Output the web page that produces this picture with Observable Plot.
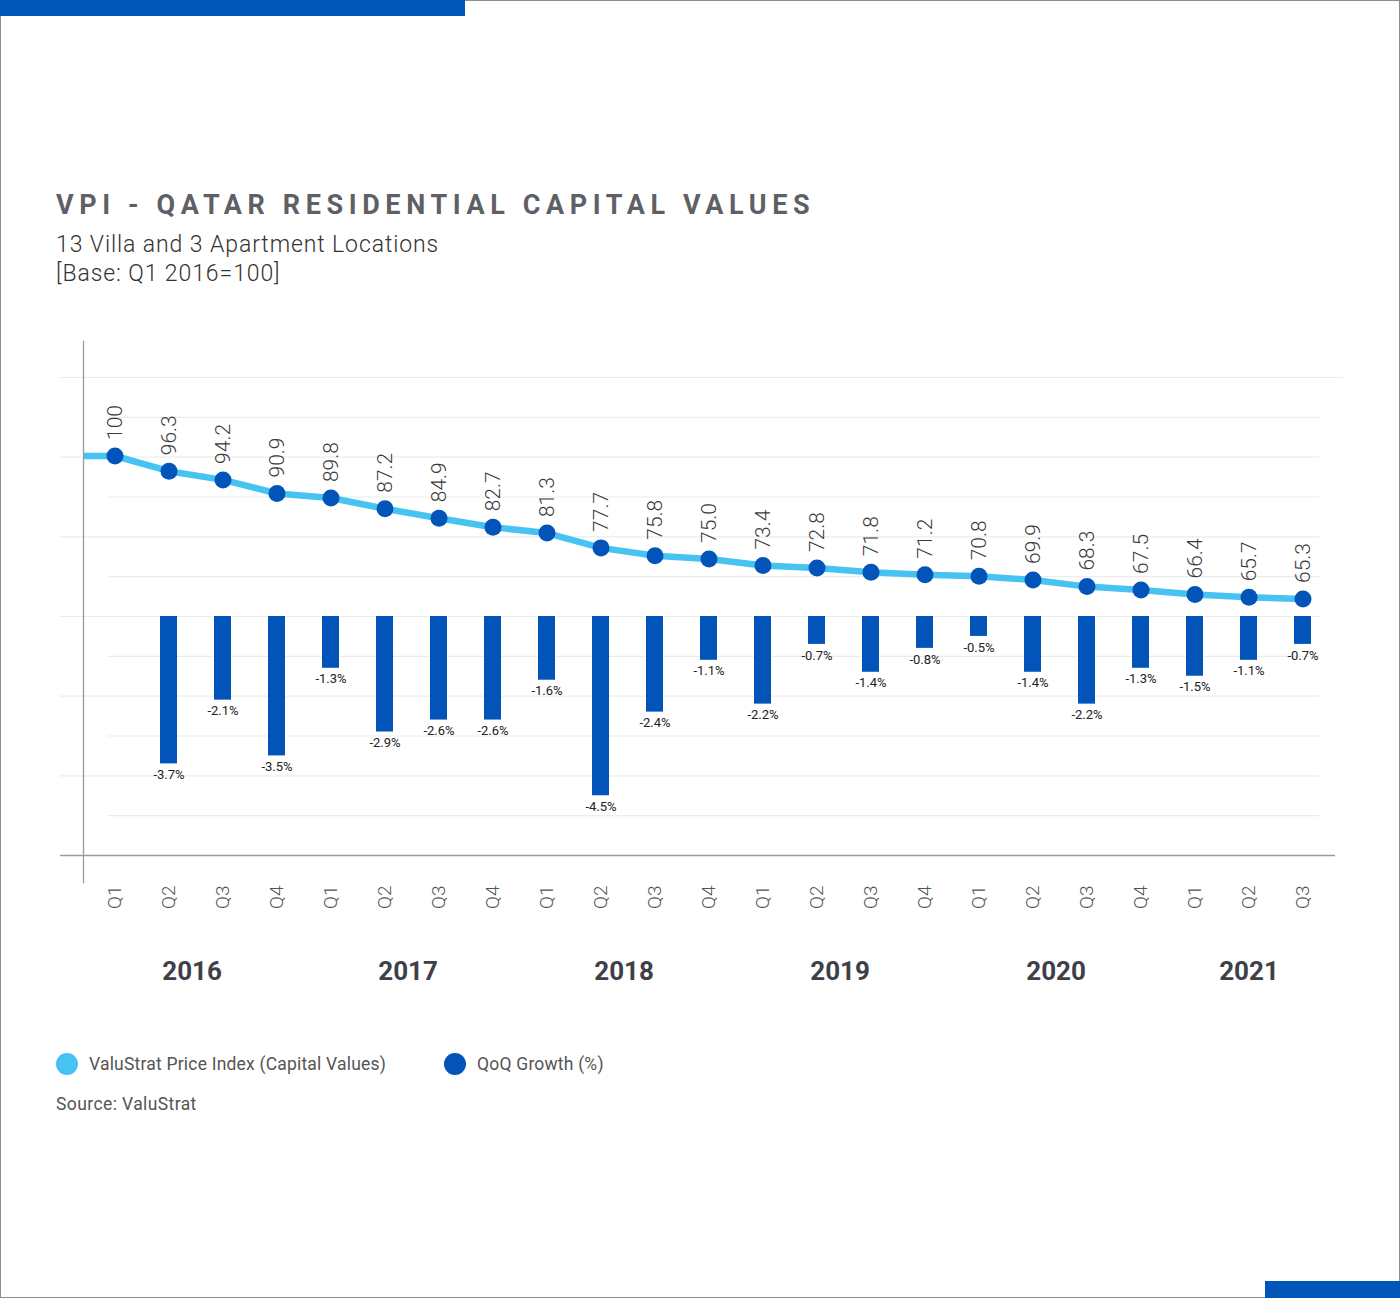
<!DOCTYPE html>
<html>
<head>
<meta charset="utf-8">
<script src="https://cdn.jsdelivr.net/npm/d3@7"></script>
<script src="https://cdn.jsdelivr.net/npm/@observablehq/plot@0.6"></script>
<style>
  html, body { margin: 0; padding: 0; background: #fff; }
  #page { position: relative; width: 1400px; height: 1298px; overflow: hidden; background: #fff; font-family: Roboto, "Noto Sans", sans-serif; }
  .frame { position: absolute; left: 0; top: 0; width: 1400px; height: 1298px; box-sizing: border-box; border: 1px solid #8c8c8c; }
  .bar-top { position: absolute; left: 0; top: 0; width: 465px; height: 16px; background: #0055b8; }
  .bar-bottom { position: absolute; left: 1265px; top: 1281px; width: 135px; height: 17px; background: #0055b8; }
  .title { position: absolute; left: 56px; top: 189px; font-size: 27px; font-weight: 700; letter-spacing: 5.6px; color: #5f5f66; white-space: nowrap; }
  .sub { position: absolute; left: 56px; font-size: 23px; font-weight: 300; letter-spacing: 0.9px; color: #333; white-space: nowrap; }
  .chart { position: absolute; left: 0; top: 330px; }
  .legend { position: absolute; top: 1053px; left: 56px; display: flex; align-items: center; font-size: 17.5px; letter-spacing: 0.2px; color: #555; font-weight: 400; white-space: nowrap; }
  .legend .sw { width: 22px; height: 22px; border-radius: 50%; display: inline-block; margin-right: 11px; }
  .source { position: absolute; left: 56px; top: 1094px; font-size: 17.5px; letter-spacing: 0.4px; color: #555; white-space: nowrap; }
</style>
</head>
<body>
<div id="page">
  <div class="frame"></div>
  <div class="bar-top"></div>
  <div class="bar-bottom"></div>
  <div class="title">VPI - QATAR RESIDENTIAL CAPITAL VALUES</div>
  <div class="sub" style="top:231px">13 Villa and 3 Apartment Locations</div>
  <div class="sub" style="top:260px">[Base: Q1 2016=100]</div>
  <div class="chart" id="chartA"></div>
  <div class="chart" id="chartB"></div>
  <div class="legend" id="legend"></div>
  <div class="source">Source: ValuStrat</div>
</div>
<script>
// ---------- data ----------
const periods = [
  "2016 Q1","2016 Q2","2016 Q3","2016 Q4",
  "2017 Q1","2017 Q2","2017 Q3","2017 Q4",
  "2018 Q1","2018 Q2","2018 Q3","2018 Q4",
  "2019 Q1","2019 Q2","2019 Q3","2019 Q4",
  "2020 Q1","2020 Q2","2020 Q3","2020 Q4",
  "2021 Q1","2021 Q2","2021 Q3"
];
const priceIndex = [100, 96.3, 94.2, 90.9, 89.8, 87.2, 84.9, 82.7, 81.3, 77.7, 75.8, 75.0,
                    73.4, 72.8, 71.8, 71.2, 70.8, 69.9, 68.3, 67.5, 66.4, 65.7, 65.3];
const qoqGrowth = [null, -3.7, -2.1, -3.5, -1.3, -2.9, -2.6, -2.6, -1.6, -4.5, -2.4, -1.1,
                   -2.2, -0.7, -1.4, -0.8, -0.5, -1.4, -2.2, -1.3, -1.5, -1.1, -0.7];
const yearLabels = ["2016", "2017", "2018", "2019", "2020", "2021"];
const gridMajor = [4, 2, 0, -2, -4];
const gridMinor = [5, 3, 1, -1, -3, -5];
const gridTop = [6];
const gridBase = [-6];
const seriesNames = ["ValuStrat Price Index (Capital Values)", "QoQ Growth (%)"];
const seriesColors = ["#47c3f2", "#0254b8"];

// ---------- derived table ----------
const rows = periods.map((p, i) => ({key: p, index: priceIndex[i], qoq: qoqGrowth[i]}));
const years = yearLabels.map(y => {
  const qs = periods.filter(p => p.startsWith(y));
  return {year: y, count: qs.length, mid: qs[Math.floor((qs.length - 1) / 2)]};
});

// ---------- layout ----------
const W = 1400, H = 680;
const step = 54.1, firstCenter = 113;
const xScale = {
  type: "band", domain: periods,
  range: [firstCenter - step / 2, firstCenter - step / 2 + step * periods.length],
  paddingInner: 0.69, paddingOuter: 0.345, align: 0.5
};
const common = {width: W, height: H, marginLeft: 83, marginRight: 70, marginTop: 11, marginBottom: 128,
  style: {background: "transparent", fontFamily: "Roboto, sans-serif", overflow: "visible"}};
const blue = seriesColors[1], light = seriesColors[0];

// Chart A: grid, bars, axes
const chartA = Plot.plot({
  ...common,
  x: {...xScale, axis: null},
  y: {domain: [-6, 6], range: [525, 47], axis: null},
  marks: [
    Plot.ruleY(gridTop, {stroke: "#ececec", strokeWidth: 1.2, insetLeft: -23, insetRight: -13}),
    Plot.ruleY(gridMajor, {stroke: "#ececec", strokeWidth: 1.2, insetLeft: -23, insetRight: 11}),
    Plot.ruleY(gridMinor, {stroke: "#ececec", strokeWidth: 1.2, insetLeft: 25, insetRight: 11}),
    Plot.frame({anchor: "left", stroke: "#9a9a9a", strokeWidth: 1.3}),
    Plot.barY(rows.filter(d => d.qoq != null), {x: "key", y: "qoq", fill: blue}),
    Plot.ruleY(gridBase, {stroke: "#9a9a9a", strokeWidth: 1.3, insetLeft: -23, insetRight: -5}),
    Plot.text(rows.filter(d => d.qoq != null), {
      x: "key", y: "qoq", text: d => d.qoq.toFixed(1) + "%", dy: 11,
      fontSize: 13, fill: "#222", fontWeight: 400
    }),
    Plot.axisX({
      anchor: "bottom", tickSize: 0, tickPadding: 3, tickRotate: -90,
      tickFormat: k => k.split(" ")[1], fontSize: 19, fontWeight: 300, fill: "#555",
      label: null
    }),
    Plot.text(years.filter(d => d.count === 4), {
      x: "mid", text: "year", frameAnchor: "bottom", dy: 97, dx: step / 2 - 4,
      fontSize: 26, fontWeight: 700, fill: "#3d4048"
    }),
    Plot.text(years.filter(d => d.count !== 4), {
      x: "mid", text: "year", frameAnchor: "bottom", dy: 97,
      fontSize: 26, fontWeight: 700, fill: "#3d4048"
    })
  ]
});
document.getElementById("chartA").appendChild(chartA);

// Chart B: price index line
const chartB = Plot.plot({
  ...common,
  x: {...xScale, axis: null},
  y: {domain: [0, 120], range: [537.5, 43.1], axis: null},
  marks: [
    // lead-in segment from the axis to the first quarter
    Plot.tickY(rows.slice(0, 1), {x: "key", y: "index", stroke: light, strokeWidth: 6.5,
      insetLeft: -22, insetRight: 8}),
    Plot.line(rows, {x: "key", y: "index", stroke: light, strokeWidth: 6.5, strokeLinejoin: "round"}),
    Plot.dot(rows, {x: "key", y: "index", r: 8.5, fill: blue}),
    Plot.text(rows, {
      x: "key", y: "index", text: d => d.index === 100 ? "100" : d.index.toFixed(1),
      rotate: -90, textAnchor: "start", lineAnchor: "middle", dy: -16,
      fontSize: 21, fontWeight: 300, fill: "#3a3a3a"
    })
  ]
});
document.getElementById("chartB").appendChild(chartB);

// Legend
const legend = document.getElementById("legend");
seriesNames.forEach((name, i) => {
  const item = document.createElement("span");
  item.style.display = "inline-flex";
  item.style.alignItems = "center";
  item.style.marginRight = i === 0 ? "58px" : "0";
  const sw = document.createElement("span");
  sw.className = "sw";
  sw.style.background = seriesColors[i];
  item.appendChild(sw);
  item.appendChild(document.createTextNode(name));
  legend.appendChild(item);
});
</script>
</body>
</html>
